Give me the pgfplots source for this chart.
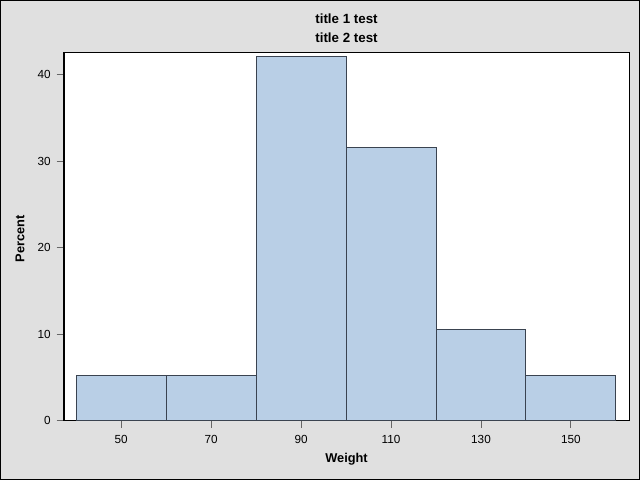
\documentclass[border=0pt]{standalone}
\usepackage{fontspec}
\setmainfont{Liberation Sans}
\usepackage{pgfplots}
\pgfplotsset{compat=1.18}
\definecolor{bgray}{HTML}{E0E0E0}
\definecolor{barfill}{HTML}{B9CFE6}
\definecolor{baredge}{HTML}{3A4350}
\begin{document}
\begin{tikzpicture}[x=0.75pt,y=0.75pt]
\fill[bgray] (0,0) rectangle (640,480);
\draw[black,line width=0.75pt] (0.5,0.5) rectangle (639.5,479.5);
\begin{axis}[
  at={(48pt,44.625pt)}, anchor=south west,
  scale only axis,
  width=423.75pt, height=276pt,
  xmin=37.3, xmax=162.9,
  ymin=0, ymax=42.6,
  axis background/.style={fill=white},
  axis line style={black,line width=0.75pt},
  xtick={50,70,90,110,130,150},
  ytick={0,10,20,30,40},
  tick align=outside,
  major tick length=5.5pt,
  tick style={black!60,line width=0.75pt},
  xtick pos=bottom, ytick pos=left,
  /pgf/number format/assume math mode=true,
  tick label style={font=\fontsize{8.8}{10}\selectfont},
  xticklabel style={yshift=-2pt},
  yticklabel style={xshift=-1pt},
]
\addplot[ybar interval, fill=barfill, draw=baredge, line width=0.75pt]
coordinates {(40,5.26) (60,5.26) (80,42.11) (100,31.58) (120,10.53) (140,5.26) (160,5.26)};
\end{axis}
\node[font=\bfseries\fontsize{10}{11}\selectfont] at (346.5,461) {title 1 test};
\node[font=\bfseries\fontsize{10}{11}\selectfont] at (346.5,442) {title 2 test};
\node[font=\bfseries\fontsize{9.6}{11}\selectfont] at (346.5,21) {Weight};
\node[font=\bfseries\fontsize{9.6}{11}\selectfont,rotate=90] at (20,241) {Percent};
\end{tikzpicture}
\end{document}
